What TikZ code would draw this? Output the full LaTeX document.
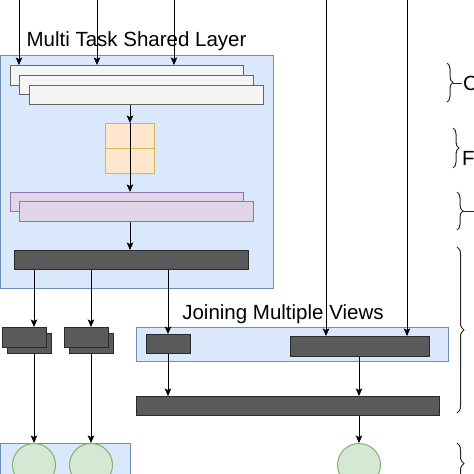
\documentclass[tikz,border=0pt]{standalone}
\usepackage{fontspec}
\setmainfont{Liberation Sans}
\usetikzlibrary{arrows.meta,decorations.pathreplacing}
\definecolor{blueF}{HTML}{DAE8FC}
\definecolor{blueD}{HTML}{6C8EBF}
\definecolor{grayF}{HTML}{F5F5F5}
\definecolor{grayD}{HTML}{666666}
\definecolor{orF}{HTML}{FFE6CC}
\definecolor{orD}{HTML}{D6B656}
\definecolor{puF}{HTML}{E1D5E7}
\definecolor{puD}{HTML}{9673A6}
\definecolor{dkF}{HTML}{5A5A5A}
\definecolor{dkD}{HTML}{2A2A2A}
\definecolor{grF}{HTML}{D5E8D4}
\definecolor{grD}{HTML}{82B366}
\begin{document}
\begin{tikzpicture}[x=1pt,y=-1pt,
  rect/.style={rectangle, inner sep=0pt, anchor=north west, line width=1pt},
  group/.style={rect, draw=blueD, fill=blueF, line width=1.4pt},
  wbar/.style={rect, draw=grayD, fill=grayF},
  pbar/.style={rect, draw=puD, fill=puF},
  dbar/.style={rect, draw=dkD, fill=dkF},
  circ/.style={circle, inner sep=0pt, draw=grD, fill=grF, line width=1pt, minimum size=43pt},
  arr/.style={draw=black, line width=0.9pt, -{Stealth[length=7.5pt,width=6.5pt,inset=1.5pt]}},
  ln/.style={draw=black, line width=0.9pt},
  brc/.style={draw=black!85, line width=1pt, decorate, decoration={brace, amplitude=6pt}},
  title/.style={font=\fontsize{20.5}{23}\selectfont, anchor=base, inner sep=0pt},
  lab/.style={font=\fontsize{20.5}{23}\selectfont, anchor=west, inner sep=0pt}
]
\useasboundingbox (0,0) rectangle (474,474);
% column coordinates
\coordinate (t1) at (19,0);
\coordinate (t2) at (97,0);
\coordinate (t3) at (174,0);
\coordinate (t4) at (326,0);
\coordinate (t5) at (407,0);
\coordinate (c1) at (34,0);
\coordinate (c2) at (91,0);
\coordinate (c3) at (168,0);
\coordinate (c6) at (359,0);

% Multi task shared layer
\node[group, minimum width=273pt, minimum height=233pt] (mt) at (0,55) {};
\node[title] (mtt) at (136.5,46.5) {Multi Task Shared Layer};
\node[wbar, minimum width=233pt, minimum height=20pt] (w1) at (10,65) {};
\node[wbar, minimum width=234pt, minimum height=19pt] (w2) at (19,75) {};
\node[wbar, minimum width=234pt, minimum height=19pt] (w3) at (29,85) {};
\node[rect, draw=orD, fill=orF, minimum width=49pt, minimum height=50pt] (g) at (105,123) {};
\draw[orD, line width=1pt] (g.north) -- (g.south) (g.west) -- (g.east);
\node[pbar, minimum width=233pt, minimum height=19pt] (p1) at (10,192) {};
\node[pbar, minimum width=234pt, minimum height=20pt] (p2) at (19,201) {};
\node[dbar, minimum width=234pt, minimum height=19pt] (d1) at (14,250) {};

% stacks
\node[dbar, minimum width=44pt, minimum height=20pt] (a2) at (7,333) {};
\node[dbar, minimum width=44pt, minimum height=20pt] (a1) at (2,327) {};
\node[dbar, minimum width=44pt, minimum height=20pt] (b2) at (69,333) {};
\node[dbar, minimum width=44pt, minimum height=20pt] (b1) at (64,327) {};

% joining multiple views
\node[group, minimum width=312pt, minimum height=34pt] (jv) at (136,327) {};
\node[title] (jvt) at (283,319) {Joining Multiple Views};
\node[dbar, minimum width=44pt, minimum height=19pt] (j1) at (146,334) {};
\node[dbar, minimum width=139pt, minimum height=20pt] (j2) at (290,336) {};
\node[dbar, minimum width=303pt, minimum height=19pt] (bot) at (136,396) {};

% outputs
\node[group, minimum width=130pt, minimum height=40pt] (ob) at (0,443) {};
\node[circ] (e1) at (34,465) {};
\node[circ] (e2) at (91,465) {};
\node[circ] (e3) at (359,465) {};

% connectors
\draw[arr] (t1) -- (t1 |- w1.north);
\draw[arr] (t2) -- (t2 |- w1.north);
\draw[arr] (t3) -- (t3 |- w1.north);
\draw[arr] (g.north |- w3.south) -- (g.north);
\draw[arr] (g.north) -- (g.north |- p1.north);
\draw[arr] (g.north |- p2.south) -- (g.north |- d1.north);
\draw[arr] (c1 |- d1.south) -- (c1 |- a1.north);
\draw[arr] (c2 |- d1.south) -- (c2 |- b1.north);
\draw[arr] (c3 |- d1.south) -- (c3 |- j1.north);
\draw[arr] (t4) -- (t4 |- j2.north);
\draw[arr] (t5) -- (t5 |- j2.north);
\draw[arr] (c3 |- j1.south) -- (c3 |- bot.north);
\draw[arr] (c6 |- j2.south) -- (c6 |- bot.north);
\draw[arr] (c6 |- bot.south) -- (e3.north);
\draw[arr] (c1 |- a2.south) -- (e1.north);
\draw[arr] (c2 |- b2.south) -- (e2.north);

% braces
\draw[brc] (447,63) -- (447,102);
\draw[ln, draw=black!85] (453,83) -- (462,83);
\node[lab] (lc) at (463,83) {C};
\draw[brc] (453,128) -- (453,168);
\node[lab] (lf) at (462,158) {F};
\draw[brc] (457,192) -- (457,230);
\draw[ln, draw=black!85] (463,211) -- (474,211);
\draw[brc, decoration={brace, amplitude=7pt}] (457,247) -- (457,413);
\draw[brc, decoration={brace, amplitude=7pt}] (457,443) -- (457,484);
\end{tikzpicture}
\end{document}
